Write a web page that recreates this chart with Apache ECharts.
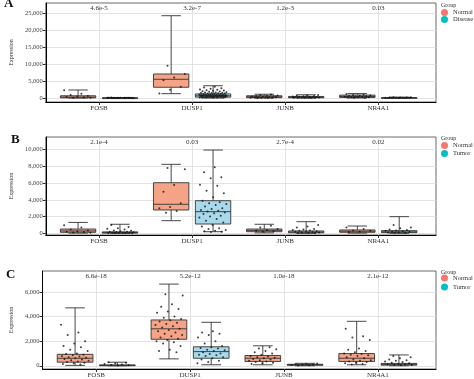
<!DOCTYPE html>
<html><head><meta charset="utf-8">
<script src="https://cdn.jsdelivr.net/npm/echarts@6/dist/echarts.min.js"></script>
<style>html,body{margin:0;padding:0;background:#fff}#c{width:474px;height:379px}</style>
</head><body><div id="c"></div>
<script>
const genes = ['FOSB', 'DUSP1', 'JUNB', 'NR4A1'];
const pvalA = ['4.6e-5', '3.2e-7', '1.2e-3', '0.03'];
const pvalB = ['2.1e-4', '0.03', '2.7e-4', '0.02'];
const pvalC = ['6.6e-18', '5.2e-12', '1.0e-18', '2.1e-12'];
const groupsA = ['Normal', 'Disease'];
const groupsBC = ['Normal', 'Tumor'];
const yTicksA = [0, 5000, 10000, 15000, 20000, 25000];
const yTicksB = [0, 2000, 4000, 6000, 8000, 10000];
const yTicksC = [0, 2000, 4000, 6000];

// box stats per gene: [lower whisker, q1, median, q3, upper whisker]
const boxA_normal = [[0, 50, 250, 650, 2350], [1270, 3150, 5500, 7060, 24200], [0, 100, 350, 650, 1100], [0, 150, 450, 850, 1300]];
const boxA_disease = [[0, 10, 30, 60, 130], [0, 250, 650, 1200, 3600], [0, 60, 180, 450, 950], [0, 20, 60, 120, 250]];
const boxB_normal = [[20, 120, 280, 510, 1300], [1510, 2790, 3470, 6050, 8250], [50, 190, 350, 510, 1080], [20, 120, 250, 400, 870]];
const boxB_tumor = [[0, 30, 80, 170, 1080], [190, 1110, 2590, 3900, 9960], [0, 60, 150, 280, 1390], [0, 80, 180, 320, 1990]];
const boxC_normal = [[30, 290, 610, 930, 4700], [560, 2150, 3000, 3720, 6630], [80, 350, 610, 830, 1620], [80, 350, 610, 990, 3610]];
const boxC_tumor = [[0, 10, 30, 70, 290], [80, 610, 1150, 1540, 3530], [0, 40, 80, 120, 200], [0, 50, 110, 190, 880]];

// jittered sample points per gene
const ptsA_normal = [
  [2300, 1250, 900, 600, 450, 300, 200, 100, 50],
  [9500, 7050, 6000, 5200, 3300, 2400, 1300],
  [1000, 850, 700, 600, 500, 450, 400, 350, 300, 250, 200, 150, 120, 100, 80, 50, 30, 20],
  [1200, 950, 850, 750, 650, 550, 500, 450, 400, 350, 300, 250, 200, 150, 100, 60]
];
const ptsA_disease = [
  [120, 100, 80, 70, 60, 55, 50, 45, 40, 35, 30, 25, 20, 15, 10, 5, 40, 30, 20, 10],
  [3300, 3100, 2900, 2700, 2500, 2400, 2300, 2200, 2100, 2000, 1900, 1800, 1700, 1650, 1600, 1550, 1500, 1450, 1400, 1350, 1300, 1250, 1200, 1150, 1100, 1050, 1000, 980, 950, 920, 900, 880, 850, 820, 800, 780, 750, 720, 700, 680, 650, 620, 600, 580, 550, 520, 500, 480, 450, 420, 400, 380, 350, 320, 300, 280, 250, 220, 200, 180, 150, 120, 100, 80, 50],
  [900, 750, 650, 550, 500, 450, 400, 350, 300, 250, 220, 200, 180, 150, 120, 100, 80, 60, 40, 20],
  [240, 200, 160, 130, 110, 90, 70, 60, 50, 40, 30, 20, 10]
];
const ptsB_normal = [
  [950, 700, 450, 350, 250, 200, 150, 100, 80],
  [7800, 7650, 5780, 4980, 3590, 3150, 2990, 2670, 2470],
  [900, 700, 500, 400, 300, 250, 200],
  [700, 500, 350, 300, 200, 150]
];
const ptsB_tumor = [
  [1000, 750, 600, 550, 450, 350, 300, 250, 200, 180, 150, 120, 100, 90, 80, 60, 50, 40, 30, 20],
  [7900, 7300, 6700, 6600, 5800, 5700, 5100, 4800, 4300, 3900, 3700, 3600, 3500, 3400, 3200, 3000, 2900, 2800, 2700, 2600, 2500, 2400, 2300, 2100, 2000, 1900, 1700, 1500, 1300, 1000, 800, 600, 500, 400, 300, 250, 200, 150],
  [1000, 800, 700, 500, 450, 400, 350, 300, 250, 200, 180, 150, 120, 100, 80, 60, 40],
  [1000, 700, 600, 450, 400, 350, 300, 250, 200, 150, 120, 100, 80, 60]
];
const ptsC_normal = [
  [3320, 2700, 2500, 2000, 1800, 1600, 1500, 1300, 1200, 1000, 950, 900, 850, 800, 750, 700, 650, 600, 550, 500, 450, 400, 350, 300, 250, 200, 150, 100],
  [5800, 5700, 5000, 4800, 4600, 4400, 4300, 4000, 3900, 3800, 3700, 3600, 3500, 3400, 3300, 3200, 3100, 3000, 2900, 2800, 2700, 2600, 2500, 2400, 2300, 2200, 2100, 2000, 1900, 1800, 1600, 1300, 1200, 1100],
  [1500, 1400, 1350, 1200, 1100, 1000, 900, 800, 750, 700, 650, 600, 550, 500, 450, 400, 350, 300, 250, 200, 150],
  [3000, 2400, 2300, 2100, 1400, 1300, 1200, 1100, 1000, 950, 900, 850, 800, 700, 600, 500, 450, 400, 350, 300, 250, 200, 150, 100]
];
const ptsC_tumor = [
  [280, 250, 200, 150, 100, 60, 40, 20],
  [2800, 2700, 2600, 2500, 2300, 2000, 1800, 1600, 1500, 1450, 1400, 1300, 1250, 1200, 1100, 1000, 950, 900, 850, 800, 700, 600, 500, 400, 300, 200],
  [180, 150, 120, 100, 80, 60, 40, 20],
  [800, 700, 600, 500, 450, 400, 350, 300, 250, 200, 150, 120, 100, 80, 60, 40]
];

const X_MIN = -0.572, X_MAX = 3.62;
const OFF = 0.225, BOX_W = 0.38, JIT_W = 0.3;
const FILL_N = '#F4A386', FILL_T = '#A8D8EA';
const LEG_N = '#F8766D', LEG_T = '#00BFC4';
const SERIF = '"Liberation Serif", "DejaVu Serif", serif';
const geneIdx = [0, 1, 2, 3];

const panels = [
  {top: 3, height: 99, min: -1180, max: 27940, ticks: yTicksA, pv: pvalA, groups: groupsA,
   boxes: [boxA_normal, boxA_disease], pts: [ptsA_normal, ptsA_disease], label: 'A', labTop: -3, labLeft: 4, legTop: 9, legGap: 0, grpTop: 2},
  {top: 137, height: 98, min: -203, max: 11520, ticks: yTicksB, pv: pvalB, groups: groupsBC,
   boxes: [boxB_normal, boxB_tumor], pts: [ptsB_normal, ptsB_tumor], label: 'B', labTop: 133, labLeft: 11, legTop: 142, legGap: 1, grpTop: 135.5},
  {top: 271, height: 100, min: -263, max: 7694, ticks: yTicksC, pv: pvalC, groups: groupsBC,
   boxes: [boxC_normal, boxC_tumor], pts: [ptsC_normal, ptsC_tumor], label: 'C', labTop: 268, labLeft: 6, legTop: 274.5, legGap: 2, grpTop: 269.5}
];

function renderBox(params, api) {
  const x = api.value(0);
  const lo = api.coord([x, api.value(1)]);
  const q1 = api.coord([x, api.value(2)]);
  const md = api.coord([x, api.value(3)]);
  const q3 = api.coord([x, api.value(4)]);
  const hi = api.coord([x, api.value(5)]);
  const bw = api.size([BOX_W, 0])[0];
  const cw = bw * 0.55;
  const cx = lo[0];
  const ls = {stroke: '#333', lineWidth: 0.9};
  return {type: 'group', children: [
    {type: 'line', shape: {x1: cx, y1: lo[1], x2: cx, y2: q1[1]}, style: ls},
    {type: 'line', shape: {x1: cx, y1: q3[1], x2: cx, y2: hi[1]}, style: ls},
    {type: 'line', shape: {x1: cx - cw / 2, y1: lo[1], x2: cx + cw / 2, y2: lo[1]}, style: ls},
    {type: 'line', shape: {x1: cx - cw / 2, y1: hi[1], x2: cx + cw / 2, y2: hi[1]}, style: ls},
    {type: 'rect', shape: {x: cx - bw / 2, y: q3[1], width: bw, height: Math.max(q1[1] - q3[1], 0.8)},
     style: {fill: api.visual('color'), stroke: '#333', lineWidth: 0.9}},
    {type: 'line', shape: {x1: cx - bw / 2, y1: md[1], x2: cx + bw / 2, y2: md[1]}, style: ls}
  ]};
}

const grid = [], xAxis = [], yAxis = [], series = [], legend = [], title = [];
panels.forEach((p, pi) => {
  grid.push({left: 30, top: p.top, width: 406, height: p.height, show: true, borderColor: '#444', borderWidth: 0.8, backgroundColor: '#fff'});
  xAxis.push({type: 'value', gridIndex: pi, min: X_MIN, max: X_MAX, position: 'bottom',
    axisLine: {show: true, onZero: false, lineStyle: {color: '#000', width: 1}},
    axisTick: {show: true, length: 3, customValues: geneIdx, lineStyle: {color: '#333'}},
    axisLabel: {customValues: geneIdx, formatter: v => genes[Math.round(v)], fontFamily: SERIF, fontSize: 7, color: '#333', margin: 3},
    splitLine: {show: true, lineStyle: {color: '#dcdcdc', width: 0.8}}});
  xAxis.push({type: 'value', gridIndex: pi, min: X_MIN, max: X_MAX, position: 'top',
    axisLine: {show: false}, axisTick: {show: false}, splitLine: {show: false},
    axisLabel: {inside: true, customValues: geneIdx, formatter: v => p.pv[Math.round(v)], fontFamily: SERIF, fontSize: 7, color: '#333', margin: 2}});
  yAxis.push({type: 'value', gridIndex: pi, min: p.min, max: p.max,
    name: 'Expression', nameLocation: 'middle', nameGap: 22, nameTextStyle: {fontFamily: SERIF, fontSize: 6, color: '#333'},
    axisLine: {show: true, onZero: false, lineStyle: {color: '#000', width: 1}},
    axisTick: {show: true, length: 3, customValues: p.ticks, lineStyle: {color: '#333'}},
    axisLabel: {customValues: p.ticks, formatter: v => Number(v).toLocaleString('en-US'), fontFamily: SERIF, fontSize: 6.5, color: '#444', margin: 3},
    splitLine: {show: true, lineStyle: {color: '#dcdcdc', width: 0.8}}});
  p.groups.forEach((g, gi) => {
    const off = gi === 0 ? -OFF : OFF;
    series.push({type: 'custom', name: g, xAxisIndex: pi * 2, yAxisIndex: pi,
      itemStyle: {color: gi === 0 ? FILL_N : FILL_T},
      renderItem: renderBox, encode: {x: 0, y: [1, 2, 3, 4, 5]},
      data: genes.map((_, i) => [i + off].concat(p.boxes[gi][i])), z: 2});
    const pts = [];
    p.pts[gi].forEach((arr, i) => {
      arr.forEach((v, k) => {
        const j = (((k * 0.618034 + i * 0.37 + gi * 0.19) % 1) - 0.5) * JIT_W;
        pts.push([i + off + j, v]);
      });
    });
    series.push({type: 'scatter', name: 'pts' + pi + gi, xAxisIndex: pi * 2, yAxisIndex: pi,
      symbolSize: 2, itemStyle: {color: '#111'}, data: pts, z: 3, silent: true});
  });
  legend.push({orient: 'vertical', left: 441, top: p.legTop, padding: 0, itemWidth: 7, itemHeight: 7, itemGap: p.legGap, icon: 'circle',
    selectedMode: false, textStyle: {fontFamily: SERIF, fontSize: 6.5, color: '#333'},
    data: [{name: p.groups[0], itemStyle: {color: LEG_N}}, {name: p.groups[1], itemStyle: {color: LEG_T}}]});
  title.push({text: p.label, left: p.labLeft, top: p.labTop, padding: 0, textStyle: {fontFamily: SERIF, fontSize: 13, fontWeight: 'bold', color: '#111'}});
  title.push({text: 'Group', left: 441, top: p.grpTop, padding: 0, textStyle: {fontFamily: SERIF, fontSize: 6, fontWeight: 'normal', color: '#333'}});
});

const chart = echarts.init(document.getElementById('c'), null, {renderer: 'canvas'});
chart.setOption({animation: false, backgroundColor: '#fff', title, legend, grid, xAxis, yAxis, series});
</script>
</body></html>
